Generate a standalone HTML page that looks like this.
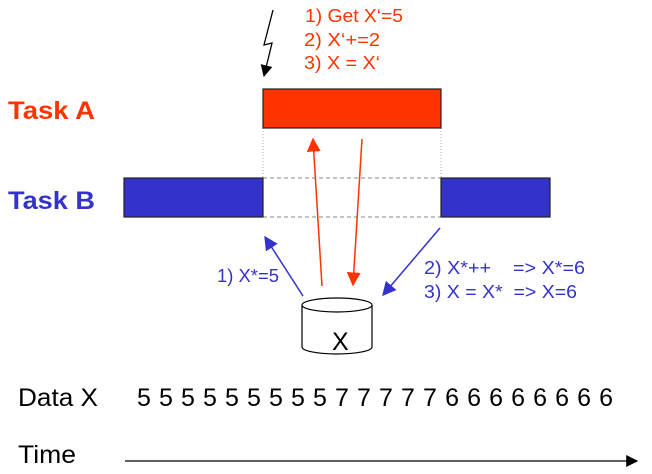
<!DOCTYPE html>
<html><head><meta charset="utf-8"><style>body{margin:0;background:#fff}svg{display:block}</style></head><body>
<svg width="652" height="474" viewBox="0 0 652 474" xmlns="http://www.w3.org/2000/svg" font-family="Liberation Sans, sans-serif">
<defs>
<marker id="ar" viewBox="0 0 10 10" refX="9" refY="5" markerWidth="14" markerHeight="14" orient="auto" markerUnits="userSpaceOnUse"><path d="M0,0 L10,5 L0,10z" fill="#ff3300"/></marker>
<marker id="au" viewBox="0 0 10 10" refX="9" refY="5" markerWidth="14" markerHeight="14" orient="auto" markerUnits="userSpaceOnUse"><path d="M0,0 L10,5 L0,10z" fill="#3333cc"/></marker>
<marker id="ak" viewBox="0 0 10 10" refX="9" refY="5" markerWidth="12" markerHeight="12" orient="auto" markerUnits="userSpaceOnUse"><path d="M0,0 L10,5 L0,10z" fill="#000"/></marker>
</defs>
<text x="8" y="119" font-size="25" font-weight="bold" fill="#ff3300" textLength="87" lengthAdjust="spacingAndGlyphs">Task A</text>
<text x="8" y="209" font-size="25" font-weight="bold" fill="#3333cc" textLength="87" lengthAdjust="spacingAndGlyphs">Task B</text>
<g font-size="18" fill="#ff3300">
<text x="305" y="22" textLength="98" lengthAdjust="spacingAndGlyphs">1) Get X‘=5</text>
<text x="304" y="46" textLength="76" lengthAdjust="spacingAndGlyphs">2) X‘+=2</text>
<text x="304" y="69" textLength="76" lengthAdjust="spacingAndGlyphs">3) X = X‘</text>
</g>
<polyline points="273,10 264,45 272,43 264,76" fill="none" stroke="#000" stroke-width="1.3" marker-end="url(#ak)"/>
<line x1="263" y1="128" x2="263" y2="178" stroke="#aaa" stroke-dasharray="1,2"/>
<line x1="441" y1="128" x2="441" y2="178" stroke="#aaa" stroke-dasharray="1,2"/>
<line x1="263" y1="178" x2="441" y2="178" stroke="#888" stroke-dasharray="4,3"/>
<line x1="263" y1="217" x2="441" y2="217" stroke="#888" stroke-dasharray="4,3"/>
<rect x="263" y="89" width="178" height="39" fill="#ff3300" stroke="#222" stroke-width="1.2"/>
<rect x="124" y="178" width="139" height="39" fill="#3333cc" stroke="#222" stroke-width="1.2"/>
<rect x="441" y="178" width="109" height="39" fill="#3333cc" stroke="#222" stroke-width="1.2"/>
<line x1="322" y1="286" x2="313" y2="139" stroke="#ff3300" stroke-width="1.5" marker-end="url(#ar)"/>
<line x1="362" y1="139" x2="353" y2="285" stroke="#ff3300" stroke-width="1.5" marker-end="url(#ar)"/>
<line x1="303" y1="296" x2="265" y2="237" stroke="#3333cc" stroke-width="1.5" marker-end="url(#au)"/>
<line x1="440" y1="228" x2="383" y2="295" stroke="#3333cc" stroke-width="1.5" marker-end="url(#au)"/>
<g font-size="18" fill="#3333cc">
<text x="217" y="282" textLength="62" lengthAdjust="spacingAndGlyphs">1) X*=5</text>
<text x="424" y="274" textLength="161" lengthAdjust="spacingAndGlyphs">2) X*++ &#160;&#160;&#160;=&gt; X*=6</text>
<text x="424" y="298" textLength="153" lengthAdjust="spacingAndGlyphs">3) X = X* &#160;=&gt; X=6</text>
</g>
<path d="M302,305 L302,347 A35,7 0 0 0 372,347 L372,305" fill="#fff" stroke="#000" stroke-width="1.2"/>
<ellipse cx="337" cy="305" rx="35" ry="7" fill="#fff" stroke="#000" stroke-width="1.2"/>
<text x="332" y="350" font-size="25">X</text>
<text x="18" y="406" font-size="25" textLength="80" lengthAdjust="spacingAndGlyphs">Data X</text>
<text x="137" y="406" font-size="25" textLength="476" lengthAdjust="spacing">5 5 5 5 5 5 5 5 5 7 7 7 7 7 6 6 6 6 6 6 6 6</text>
<text x="18" y="463" font-size="25" textLength="58" lengthAdjust="spacingAndGlyphs">Time</text>
<line x1="125" y1="461" x2="637" y2="461" stroke="#000" stroke-width="1.2" marker-end="url(#ak)"/>
</svg>
</body></html>
